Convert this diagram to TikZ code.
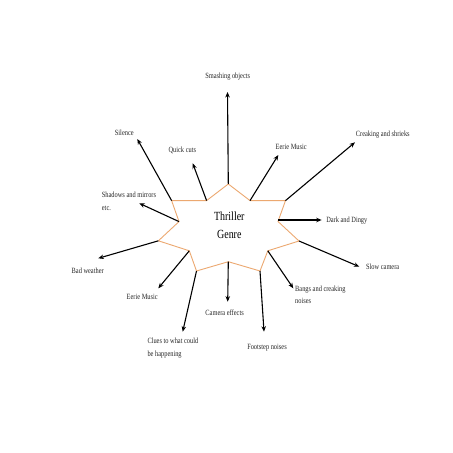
\documentclass[tikz,border=0pt]{standalone}
\usepackage{fontspec}
\setmainfont{Liberation Serif}[FakeStretch=0.8]
\usetikzlibrary{arrows.meta,calc}
\definecolor{starorange}{RGB}{236,168,112}
\tikzset{
  lbl/.style={inner sep=0pt, font=\fontsize{8}{12.5}\selectfont, text=black!85},
  arr/.style={line width=1.1pt, -{Stealth[length=5.5pt,width=4.5pt]}},
  starline/.style={draw=starorange, line width=0.9pt, line join=miter},
}
\begin{document}
\begin{tikzpicture}[x=1bp,y=-1bp]
\useasboundingbox[fill=white] (0,0) rectangle (453,453);
% star vertices
\coordinate (v1) at (228.3,184);
\coordinate (v2) at (250,200.6);
\coordinate (v3) at (285.5,200.6);
\coordinate (v4) at (278,221.5);
\coordinate (v5) at (299,241);
\coordinate (v6) at (267.8,250.8);
\coordinate (v7) at (260,271);
\coordinate (v8) at (228.3,261.7);
\coordinate (v9) at (196.5,271);
\coordinate (v10) at (189.3,250.8);
\coordinate (v11) at (158.4,240.8);
\coordinate (v12) at (179,221.6);
\coordinate (v13) at (171.6,200.6);
\coordinate (v14) at (206.6,200.6);
\draw[starline] (v1)--(v2)--(v3)--(v4)--(v5)--(v6)--(v7)--(v8)--(v9)--(v10)--(v11)--(v12)--(v13)--(v14)--cycle;
\node[font=\fontsize{12.5}{18}\selectfont, align=center, inner sep=0pt] (center) at (229.3,225.5) {Thriller\\Genre};
% labels
\node[lbl] (smash) at (227.7,76.7) {Smashing objects};
\node[lbl] (silence) at (124.3,132.7) {Silence};
\node[lbl] (quick) at (182.3,150.7) {Quick cuts};
\node[lbl] (eerie1) at (291.2,146.7) {Eerie Music};
\node[lbl] (creak) at (382.8,135) {Creaking and shrieks};
\node[lbl] (dark) at (346.8,220.7) {Dark and Dingy};
\node[lbl] (slow) at (382.7,266.7) {Slow camera};
\node[lbl, anchor=west, align=left] (bangs) at (295,294.5) {Bangs and creaking\\noises};
\node[lbl] (foot) at (267,347.3) {Footstep noises};
\node[lbl] (camera) at (224.6,312.7) {Camera effects};
\node[lbl, anchor=west, align=left] (clues) at (147.3,348.3) {Clues to what could\\be happening};
\node[lbl] (eerie2) at (142.2,296.7) {Eerie Music};
\node[lbl] (bad) at (87.7,270.7) {Bad weather};
\node[lbl, anchor=west, align=left] (shadows) at (101.7,201.2) {Shadows and mirrors\\etc.};
% arrow tips
\coordinate (t1) at (227.5,92);
\coordinate (t2) at (137.3,139);
\coordinate (t3) at (192.7,163.3);
\coordinate (t4) at (278.3,155);
\coordinate (t5) at (355,142.3);
\coordinate (t6) at (321.7,220);
\coordinate (t7) at (359.3,266.7);
\coordinate (t8) at (293.3,288.3);
\coordinate (t9) at (264,331.7);
\coordinate (t10) at (227.7,301.7);
\coordinate (t11) at (182.7,331.7);
\coordinate (t12) at (158.3,288.3);
\coordinate (t13) at (98.3,258.3);
\coordinate (t14) at (139.3,203.3);
\coordinate (s6) at ($(v4)+(0.3,-1.5)$);
% arrows
\draw[arr] (v1) -- (t1);
\draw[arr] (v13) -- (t2);
\draw[arr] (v14) -- (t3);
\draw[arr] (v2) -- (t4);
\draw[arr] (v3) -- (t5);
\draw[arr] (s6) -- (t6);
\draw[arr] (v5) -- (t7);
\draw[arr] (v6) -- (t8);
\draw[arr] (v7) -- (t9);
\draw[arr] (v8) -- (t10);
\draw[arr] (v9) -- (t11);
\draw[arr] (v10) -- (t12);
\draw[arr] (v11) -- (t13);
\draw[arr] (v12) -- (t14);
\end{tikzpicture}
\end{document}
